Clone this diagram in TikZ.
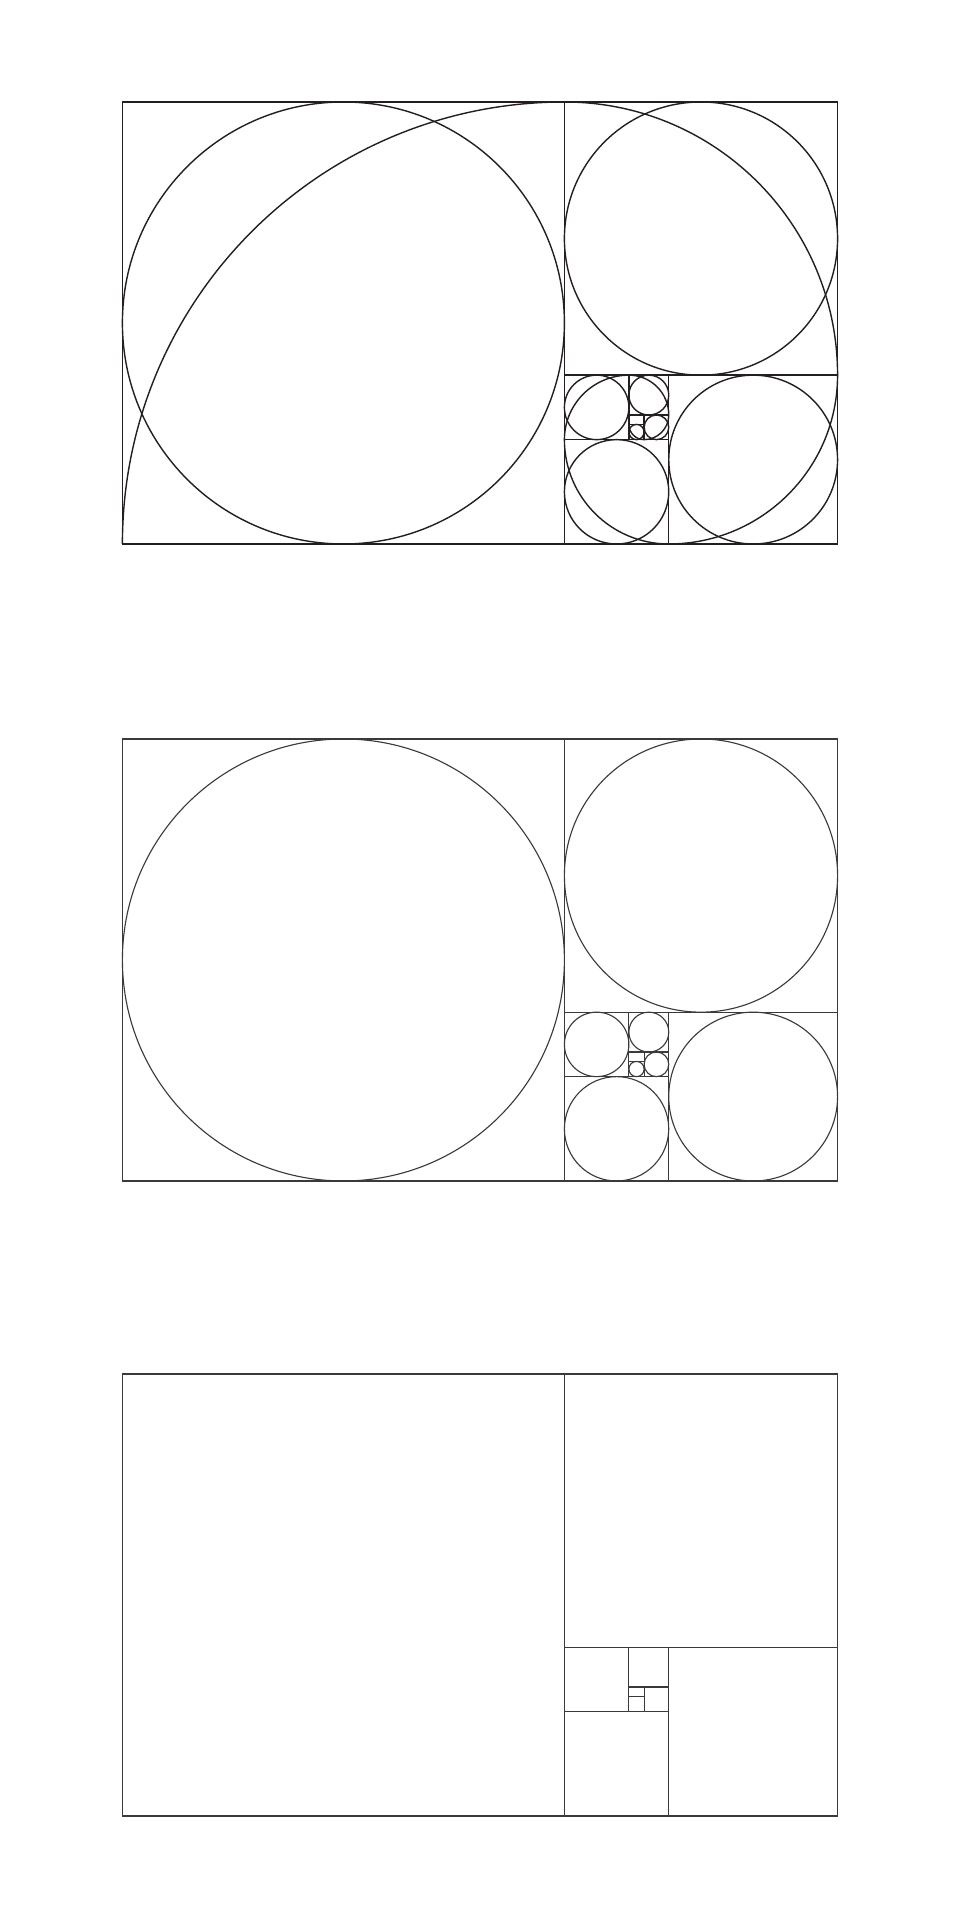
\documentclass[tikz,border=0pt]{standalone}
\usepackage{tikz}
\usetikzlibrary{calc}
\definecolor{ink}{HTML}{231F20}
\definecolor{inkgrey}{HTML}{3A3A3A}
\def\quarterarc[#1](#2)(#3:#4:#5){\draw[#1] ($(#2)+(#3:#5)$) arc (#3:#4:#5);}

\begin{document}
\begin{tikzpicture}[x=0.025cm, y=0.025cm]
			%%%%% START %%%%%
			\useasboundingbox (0, 0) rectangle (960, 1920);
			
			%%%%% TOP: squares, circles and spiral %%%%%
			\draw[line width=1pt, color=ink] (122.4, 1376) rectangle (564.4, 1818);
			\draw[line width=1pt, color=ink] (564.4, 1544.83) rectangle (837.57, 1818);
			\draw[line width=1pt, color=ink] (668.74, 1376) rectangle (837.57, 1544.83);
			\draw[line width=1pt, color=ink] (564.4, 1376) rectangle (668.74, 1480.34);
			\draw[line width=1pt, color=ink] (564.4, 1480.34) rectangle (628.89, 1544.83);
			\draw[line width=1pt, color=ink] (628.89, 1504.97) rectangle (668.74, 1544.83);
			\draw[line width=1pt, color=ink] (644.11, 1480.34) rectangle (668.74, 1504.97);
			\draw[line width=1pt, color=ink] (628.89, 1480.34) rectangle (644.11, 1495.57);
			
			\draw [line width=1pt, color=ink](343.4, 1597) circle (221);
			\draw [line width=1pt, color=ink](700.99, 1681.41) circle (136.59);
			\draw [line width=1pt, color=ink](753.16, 1460.41) circle (84.41);
			\draw [line width=1pt, color=ink](616.57, 1428.17) circle (52.17);
			\draw [line width=1pt, color=ink](596.64, 1512.59) circle (32.24);
			\draw [line width=1pt, color=ink](648.82, 1524.90) circle (19.93);
			\draw [line width=1pt, color=ink](656.43, 1492.66) circle (12.32);
			\draw [line width=1pt, color=ink](636.50, 1487.95) circle (7.61);
			
			\quarterarc[line width=1pt, color=ink](564.4, 1376)(180:90:442);
			\quarterarc[line width=1pt, color=ink](564.4, 1544.83)(90:0:273.17);
			\quarterarc[line width=1pt, color=ink](668.74, 1544.83)(0:-90:168.83);
			\quarterarc[line width=1pt, color=ink](668.74, 1480.34)(-90:-180:104.34);
			\quarterarc[line width=1pt, color=ink](628.89, 1480.34)(180:90:64.49);
			\quarterarc[line width=1pt, color=ink](628.89, 1504.97)(90:0:39.86);
			\quarterarc[line width=1pt, color=ink](644.11, 1504.97)(0:-90:24.63);
			\quarterarc[line width=1pt, color=ink](644.11, 1495.57)(-90:-180:15.22);
			
			%%%%% MIDDLE: squares and circles %%%%%
			\draw[line width=0.8pt, color=inkgrey] (122.4, 739) rectangle (564.4, 1181);
			\draw[line width=0.8pt, color=inkgrey] (564.4, 907.83) rectangle (837.57, 1181);
			\draw[line width=0.8pt, color=inkgrey] (668.74, 739) rectangle (837.57, 907.83);
			\draw[line width=0.8pt, color=inkgrey] (564.4, 739) rectangle (668.74, 843.34);
			\draw[line width=0.8pt, color=inkgrey] (564.4, 843.34) rectangle (628.89, 907.83);
			\draw[line width=0.8pt, color=inkgrey] (628.89, 867.97) rectangle (668.74, 907.83);
			\draw[line width=0.8pt, color=inkgrey] (644.11, 843.34) rectangle (668.74, 867.97);
			\draw[line width=0.8pt, color=inkgrey] (628.89, 843.34) rectangle (644.11, 858.57);
			
			\draw [line width=0.8pt, color=inkgrey](343.4, 960) circle (221);
			\draw [line width=0.8pt, color=inkgrey](700.99, 1044.41) circle (136.59);
			\draw [line width=0.8pt, color=inkgrey](753.16, 823.41) circle (84.41);
			\draw [line width=0.8pt, color=inkgrey](616.57, 791.17) circle (52.17);
			\draw [line width=0.8pt, color=inkgrey](596.64, 875.59) circle (32.24);
			\draw [line width=0.8pt, color=inkgrey](648.82, 887.90) circle (19.93);
			\draw [line width=0.8pt, color=inkgrey](656.43, 855.66) circle (12.32);
			\draw [line width=0.8pt, color=inkgrey](636.50, 850.95) circle (7.61);
			
			%%%%% BOTTOM: squares only %%%%%
			\draw[line width=0.8pt, color=inkgrey] (122.4, 104) rectangle (564.4, 546);
			\draw[line width=0.8pt, color=inkgrey] (564.4, 272.83) rectangle (837.57, 546);
			\draw[line width=0.8pt, color=inkgrey] (668.74, 104) rectangle (837.57, 272.83);
			\draw[line width=0.8pt, color=inkgrey] (564.4, 104) rectangle (668.74, 208.34);
			\draw[line width=0.8pt, color=inkgrey] (564.4, 208.34) rectangle (628.89, 272.83);
			\draw[line width=0.8pt, color=inkgrey] (628.89, 232.97) rectangle (668.74, 272.83);
			\draw[line width=0.8pt, color=inkgrey] (644.11, 208.34) rectangle (668.74, 232.97);
			\draw[line width=0.8pt, color=inkgrey] (628.89, 208.34) rectangle (644.11, 223.57);
			
			%%%%% END %%%%%
		\end{tikzpicture}
\end{document}
